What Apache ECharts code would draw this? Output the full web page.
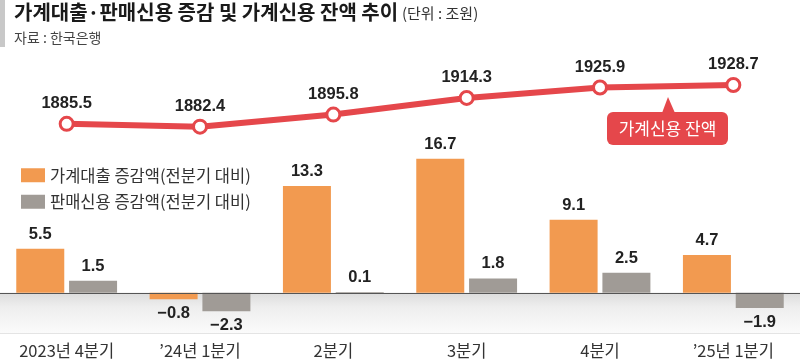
<!DOCTYPE html>
<html><head><meta charset="utf-8">
<script src="https://cdn.jsdelivr.net/npm/echarts@6/dist/echarts.min.js"></script>
<style>html,body{margin:0;padding:0;background:#fff}#c{width:800px;height:361px}</style>
</head><body><div id="c"></div>
<script>
var categories = ['2023년 4분기', '\u201924년 1분기', '2분기', '3분기', '4분기', '\u201925년 1분기'];
var loanChange = [5.5, -0.8, 13.3, 16.7, 9.1, 4.7];
var salesCreditChange = [1.5, -2.3, 0.1, 1.8, 2.5, -1.9];
var creditBalance = [1885.5, 1882.4, 1895.8, 1914.3, 1925.9, 1928.7];
var seriesNames = ['가계대출 증감액(전분기 대비)', '판매신용 증감액(전분기 대비)', '가계신용 잔액'];

var FONT = '"Noto Sans CJK KR", "Noto Sans", sans-serif';
var NUMFONT = '"Liberation Sans", Arial, sans-serif';
function fmt(v){ return v < 0 ? '\u2212' + Math.abs(v).toFixed(1) : v.toFixed(1); }
function barData(arr){
  return arr.map(function(v){
    return { value: v, label: { position: v < 0 ? 'bottom' : 'top' } };
  });
}
var barLabel = { show: true, fontFamily: NUMFONT, fontWeight: 'bold', fontSize: 16.5, color: '#222', distance: 6,
  formatter: function(p){ return fmt(p.value); } };

var chart = echarts.init(document.getElementById('c'), null, { renderer: 'canvas' });
chart.setOption({
  animation: false,
  backgroundColor: '#fff',
  grid: { left: 0, right: 0, top: 60, bottom: 28, containLabel: false },
  legend: {
    data: [seriesNames[0], seriesNames[1]], orient: 'vertical', left: 16, top: 162,
    itemWidth: 24, itemHeight: 14, itemGap: 10, icon: 'rect',
    textStyle: { fontFamily: FONT, fontSize: 16.5, color: '#333' }
  },
  xAxis: {
    type: 'category', data: categories, position: 'bottom',
    axisLine: { show: true, onZero: false, lineStyle: { color: '#e4e4e4', width: 1 } },
    axisTick: { show: true, inside: true, length: 8, lineStyle: { color: '#999' } },
    axisLabel: { fontFamily: FONT, fontSize: 16.5, color: '#333', margin: 9 }
  },
  yAxis: [
    { type: 'value', min: -5, max: 29, show: false, splitLine: { show: false } },
    { type: 'value', min: 1653, max: 1956.5, show: false, splitLine: { show: false } }
  ],
  graphic: [
    { type: 'rect', left: 0, top: 0, shape: { width: 5, height: 47 }, style: { fill: '#c8c8c8' } },
    { type: 'text', left: 14, top: 2, style: { text: '가계대출\u00b7판매신용 증감 및 가계신용 잔액 추이', fontFamily: FONT, fontWeight: 'bold', fontSize: 20, fill: '#1a1a1a' } },
    { type: 'text', left: 402, top: 6, style: { text: '(단위 : 조원)', fontFamily: FONT, fontSize: 15, fill: '#333' } },
    { type: 'text', left: 14, top: 31, style: { text: '자료 : 한국은행', fontFamily: FONT, fontSize: 14, fill: '#444' } },
    { type: 'group', left: 607, top: 97, children: [
      { type: 'polygon', shape: { points: [[61, 0], [55, 16], [68, 16]] }, style: { fill: '#e5474b' } },
      { type: 'rect', shape: { x: 0, y: 15, width: 121, height: 33, r: 6 }, style: { fill: '#e5474b' } },
      { type: 'text', style: { x: 60.5, y: 31.5, text: '가계신용 잔액', align: 'center', verticalAlign: 'middle', fontFamily: FONT, fontSize: 17, fill: '#fff' } }
    ]}
  ],
  series: [
    {
      name: seriesNames[0], type: 'bar', yAxisIndex: 0, data: barData(loanChange),
      barWidth: 48, barGap: '10%', itemStyle: { color: '#f29a50' }, label: barLabel,
      markArea: {
        silent: true,
        itemStyle: { color: { type: 'linear', x: 0, y: 0, x2: 0, y2: 1, colorStops: [
          { offset: 0, color: '#dcdcdc' }, { offset: 0.35, color: '#eeeeee' }, { offset: 1, color: '#fbfbfb' } ] } },
        data: [[{ yAxis: 0 }, { yAxis: -5 }]]
      },
      markLine: {
        silent: true, symbol: 'none', label: { show: false },
        lineStyle: { color: '#555', width: 1, type: 'solid' },
        data: [{ yAxis: 0 }]
      },
      z: 3
    },
    {
      name: seriesNames[1], type: 'bar', yAxisIndex: 0, data: barData(salesCreditChange),
      barWidth: 48, barGap: '10%', itemStyle: { color: '#a09b96' }, label: barLabel, z: 3
    },
    {
      name: seriesNames[2], type: 'line', yAxisIndex: 1, data: creditBalance,
      lineStyle: { color: '#e5474b', width: 6 },
      symbol: 'circle', symbolSize: 13,
      itemStyle: { color: '#fff', borderColor: '#e5474b', borderWidth: 3 },
      label: { show: true, position: 'top', distance: 4, fontFamily: NUMFONT, fontWeight: 'bold', fontSize: 16.5, color: '#222',
        formatter: function(p){ return p.value.toFixed(1); } },
      z: 5
    }
  ]
});
</script></body></html>
